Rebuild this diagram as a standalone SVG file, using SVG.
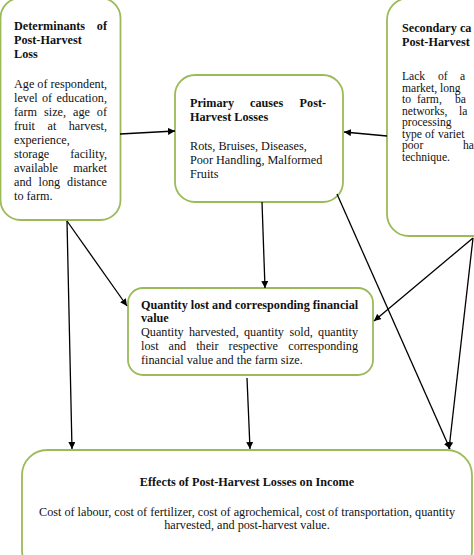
<svg xmlns="http://www.w3.org/2000/svg" width="474" height="555" viewBox="0 0 474 555">
<defs>
<marker id="ah" viewBox="0 0 10 10" refX="10" refY="5" markerWidth="7" markerHeight="7" markerUnits="userSpaceOnUse" orient="auto">
<path d="M0,0 L10,5 L0,10 z" fill="#000"/>
</marker>
<style>
.box{fill:#fff;stroke:#9bbb59;stroke-width:1.8}
text{font-family:"Liberation Serif","Times New Roman",serif;font-size:12.2px;fill:#111}
.b{font-weight:bold}
.m{text-anchor:middle}
.s{font-size:11.6px}
.c{stroke:#000;stroke-width:1.3;fill:none;marker-end:url(#ah)}
</style>
</defs>
<rect width="474" height="555" fill="#fff"/>

<g id="determinants">
<rect class="box" x="0.5" y="-2" width="120" height="222" rx="20"/>
<text class="b" y="30"><tspan x="14">Determinants</tspan><tspan x="107" text-anchor="end">of</tspan></text>
<text class="b" x="14" y="44">Post-Harvest</text>
<text class="b" x="14" y="58">Loss</text>
<text x="14" y="88">Age of respondent,</text>
<text y="102"><tspan x="14">level</tspan><tspan x="42">of</tspan><tspan x="107" text-anchor="end">education,</tspan></text>
<text y="116"><tspan x="14">farm</tspan><tspan x="44">size,</tspan><tspan x="73">age</tspan><tspan x="107" text-anchor="end">of</tspan></text>
<text y="130"><tspan x="14">fruit</tspan><tspan x="47.5">at</tspan><tspan x="107" text-anchor="end">harvest,</tspan></text>
<text x="14" y="144">experience,</text>
<text y="158"><tspan x="14">storage</tspan><tspan x="107" text-anchor="end">facility,</tspan></text>
<text y="172"><tspan x="14">available</tspan><tspan x="107" text-anchor="end">market</tspan></text>
<text y="186"><tspan x="14">and</tspan><tspan x="38.5">long</tspan><tspan x="107" text-anchor="end">distance</tspan></text>
<text x="14" y="200">to farm.</text>
</g>

<g id="primary">
<rect class="box" x="175" y="75" width="168" height="127" rx="20"/>
<text class="b" y="107"><tspan x="190">Primary</tspan><tspan x="250">causes</tspan><tspan x="326" text-anchor="end">Post-</tspan></text>
<text class="b" x="190" y="121">Harvest Losses</text>
<text x="190" y="150">Rots, Bruises, Diseases,</text>
<text x="190" y="164">Poor Handling, Malformed</text>
<text x="190" y="178">Fruits</text>
</g>

<g id="secondary">
<rect class="box" x="387" y="-2" width="120" height="238" rx="22"/>
<text class="b" x="402" y="32">Secondary ca</text>
<text class="b" x="402" y="46">Post-Harvest</text>
<text class="s" y="80"><tspan x="402">Lack</tspan><tspan x="438">of</tspan><tspan x="460">a</tspan></text>
<text class="s" x="402" y="91.5">market, long</text>
<text class="s" y="103"><tspan x="402">to</tspan><tspan x="417">farm,</tspan><tspan x="455">ba</tspan></text>
<text class="s" y="114.5"><tspan x="402">networks,</tspan><tspan x="459">la</tspan></text>
<text class="s" x="402" y="126">processing</text>
<text class="s" y="137.5"><tspan x="402">type</tspan><tspan x="425">of</tspan><tspan x="438">variet</tspan></text>
<text class="s" y="149"><tspan x="402">poor</tspan><tspan x="463">ha</tspan></text>
<text class="s" x="402" y="160.5">technique.</text>
</g>

<g id="quantity">
<rect class="box" x="128" y="288" width="245" height="87" rx="15"/>
<text class="b" x="141" y="309">Quantity lost and corresponding financial</text>
<text class="b" x="141" y="322">value</text>
<text y="336"><tspan x="141">Quantity</tspan><tspan x="189">harvested,</tspan><tspan x="244">quantity</tspan><tspan x="289.5">sold,</tspan><tspan x="358" text-anchor="end">quantity</tspan></text>
<text y="350"><tspan x="141">lost</tspan><tspan x="168.6">and</tspan><tspan x="196.2">their</tspan><tspan x="228.6">respective</tspan><tspan x="358" text-anchor="end">corresponding</tspan></text>
<text x="141" y="364">financial value and the farm size.</text>
</g>

<g id="effects">
<rect class="box" x="22" y="450" width="450" height="125" rx="25"/>
<text class="b m" x="247" y="486">Effects of Post-Harvest Losses on Income</text>
<text class="m" x="247" y="516">Cost of labour, cost of fertilizer, cost of agrochemical, cost of transportation, quantity</text>
<text class="m" x="247" y="529">harvested, and post-harvest value.</text>
</g>

<g id="connectors">
<path class="c" d="M120,134 L175,131"/>
<path class="c" d="M387,136 L344,132"/>
<path class="c" d="M262,202 L265,288"/>
<path class="c" d="M67,221 L127,306"/>
<path class="c" d="M67,221 L72,449"/>
<path class="c" d="M337,194 L450,449"/>
<path class="c" d="M473,238 L374,321"/>
<path class="c" d="M473,238 L449,449"/>
<path class="c" d="M247,378 L250,449"/>
</g>
</svg>
